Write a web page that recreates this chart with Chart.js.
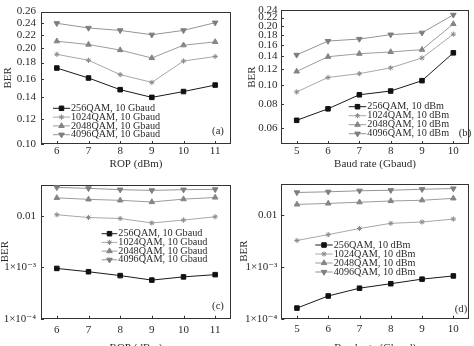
<!DOCTYPE html>
<html>
<head>
<meta charset="utf-8">
<script src="https://cdn.jsdelivr.net/npm/chart.js@4.4.1/dist/chart.umd.min.js"></script>
<style>
html,body{margin:0;padding:0;overflow:hidden;background:#fff;width:474px;height:346px;}
#wrap{position:relative;width:474px;height:346px;overflow:hidden;}
canvas{position:absolute;}
</style>
</head>
<body>
<div id="wrap">
<canvas id="ca" width="237" height="173" style="left:0;top:0"></canvas>
<canvas id="cb" width="237" height="173" style="left:237px;top:0"></canvas>
<canvas id="cc" width="237" height="182" style="left:0;top:173px"></canvas>
<canvas id="cd" width="237" height="182" style="left:237px;top:173px"></canvas>
</div>
<script>
// ---------- data ----------
const ropValues = [6, 7, 8, 9, 10, 11];
const baudValues = [5, 6, 7, 8, 9, 10];

const seriesNamesRop = ['256QAM, 10 Gbaud', '1024QAM, 10 Gbaud', '2048QAM, 10 Gbaud', '4096QAM, 10 Gbaud'];
const seriesNamesBaud = ['256QAM, 10 dBm', '1024QAM, 10 dBm', '2048QAM, 10 dBm', '4096QAM, 10 dBm'];

const a256  = [0.173, 0.161, 0.148, 0.140, 0.146, 0.153];
const a1024 = [0.191, 0.183, 0.165, 0.156, 0.182, 0.188];
const a2048 = [0.210, 0.205, 0.197, 0.186, 0.204, 0.209];
const a4096 = [0.239, 0.231, 0.227, 0.220, 0.227, 0.240];

const b256  = [0.066, 0.0755, 0.089, 0.093, 0.105, 0.1455];
const b1024 = [0.092, 0.109, 0.114, 0.122, 0.137, 0.181];
const b2048 = [0.117, 0.139, 0.144, 0.147, 0.151, 0.204];
const b4096 = [0.142, 0.167, 0.171, 0.180, 0.184, 0.227];

const c256  = [0.000945, 0.000815, 0.000686, 0.000561, 0.000648, 0.000716];
const c1024 = [0.0104, 0.0092, 0.0088, 0.0072, 0.0082, 0.0095];
const c2048 = [0.0221, 0.0207, 0.0198, 0.0184, 0.0209, 0.0225];
const c4096 = [0.0353, 0.0338, 0.0319, 0.0309, 0.0319, 0.0323];

const d256  = [0.000160, 0.000274, 0.000387, 0.000472, 0.000578, 0.000667];
const d1024 = [0.00321, 0.00416, 0.00546, 0.00687, 0.00729, 0.0083];
const d2048 = [0.0159, 0.0166, 0.0175, 0.0185, 0.0191, 0.0208];
const d4096 = [0.027, 0.0278, 0.0291, 0.0298, 0.0311, 0.0321];

const yTicksA = [0.10, 0.12, 0.14, 0.16, 0.18, 0.20, 0.22, 0.24, 0.26];
const yTicksB = [0.06, 0.08, 0.10, 0.12, 0.14, 0.16, 0.18, 0.20, 0.22, 0.24];
const yTicksLow = [0.0001, 0.001, 0.01];
const yTickLabelsLow = ['1×10⁻⁴', '1×10⁻³', '0.01'];

// ---------- styles ----------
const FONT = "'Liberation Serif', 'DejaVu Serif', 'Times New Roman', serif";
const TEXT = '#2a2a2a';
const FRAME = '#333333';
const styles = [
  {line: '#1a1a1a', point: '#111111', pointStyle: 'rect', radius: 3.2, rotation: 0},
  {line: '#a8a8a8', point: '#8a8a8a', pointStyle: 'star', radius: 2.6, rotation: 0},
  {line: '#9c9c9c', point: '#858585', pointStyle: 'triangle', radius: 3.2, rotation: 0},
  {line: '#959595', point: '#7e7e7e', pointStyle: 'triangle', radius: 3.2, rotation: 180}
];

function buildDatasets(xs, seriesList, names) {
  return seriesList.map((vals, i) => ({
    label: names[i],
    data: xs.map((x, j) => ({x: x, y: vals[j]})),
    borderColor: styles[i].line,
    backgroundColor: styles[i].point,
    pointBackgroundColor: styles[i].point,
    pointBorderColor: styles[i].point,
    pointStyle: styles[i].pointStyle,
    pointRadius: styles[i].radius,
    pointRotation: styles[i].rotation,
    pointBorderWidth: 1,
    borderWidth: 1,
    tension: 0
  }));
}

const framePlugin = {
  id: 'frame',
  beforeDatasetsDraw(chart) {
    const {ctx, chartArea: a} = chart;
    ctx.save();
    ctx.strokeStyle = FRAME;
    ctx.lineWidth = 1;
    ctx.strokeRect(Math.round(a.left) + 0.5, Math.round(a.top) + 0.5,
                   Math.round(a.right - a.left) - 1, Math.round(a.bottom - a.top) - 1);
    const ys = chart.scales.y, xs = chart.scales.x;
    ctx.beginPath();
    ys.ticks.forEach(t => {
      const p = Math.round(ys.getPixelForValue(t.value)) + 0.5;
      ctx.moveTo(a.left, p); ctx.lineTo(a.left + 3, p);
    });
    xs.ticks.forEach(t => {
      const p = Math.round(xs.getPixelForValue(t.value)) + 0.5;
      ctx.moveTo(p, a.bottom); ctx.lineTo(p, a.bottom - 3);
    });
    ctx.stroke();
    ctx.restore();
  }
};

const legendPlugin = {
  id: 'innerLegend',
  afterDatasetsDraw(chart, args, o) {
    const ctx = chart.ctx;
    ctx.save();
    ctx.font = o.size + 'px ' + FONT;
    ctx.textBaseline = 'middle';
    ctx.textAlign = 'left';
    chart.data.datasets.forEach((ds, i) => {
      const y = o.y + i * o.step;
      ctx.strokeStyle = ds.borderColor;
      ctx.lineWidth = 1;
      ctx.beginPath();
      ctx.moveTo(o.x0, y); ctx.lineTo(o.x1, y);
      ctx.stroke();
      ctx.fillStyle = ds.pointBackgroundColor;
      ctx.strokeStyle = ds.pointBorderColor;
      Chart.helpers.drawPoint(ctx, {pointStyle: ds.pointStyle, radius: ds.pointRadius,
        rotation: ds.pointRotation, borderWidth: 1}, (o.x0 + o.x1) / 2, y);
      ctx.fillStyle = TEXT;
      ctx.fillText(ds.label, o.x1 + 1, y);
    });
    ctx.textAlign = 'center';
    ctx.font = (o.size + 0.5) + 'px ' + FONT;
    ctx.fillText(o.tag, o.tagX, o.tagY);
    ctx.restore();
  }
};

function makeChart(id, p) {
  const fnt = {family: FONT, size: 11};
  return new Chart(document.getElementById(id), {
    type: 'line',
    data: {datasets: p.datasets},
    plugins: [framePlugin, legendPlugin],
    options: {
      responsive: false,
      animation: false,
      layout: {padding: {top: p.padTop, right: p.padRight, left: 0, bottom: 0}},
      plugins: {
        legend: {display: false},
        tooltip: {enabled: false},
        innerLegend: p.legend
      },
      scales: {
        x: {
          type: 'linear',
          min: p.xMin, max: p.xMax,
          afterBuildTicks: s => { s.ticks = p.xTicks.map(v => ({value: v})); },
          afterFit: s => { s.height = p.xHeight; },
          grid: {display: false, drawTicks: false},
          border: {display: false},
          ticks: {font: fnt, color: TEXT, padding: p.xPad, maxRotation: 0, autoSkip: false,
                  callback: v => String(v)},
          title: {display: true, text: p.xTitle, font: fnt, color: TEXT,
                  padding: {top: 0, bottom: p.xTitlePad}}
        },
        y: {
          type: 'logarithmic',
          min: p.yMin, max: p.yMax,
          afterBuildTicks: s => { s.ticks = p.yTicks.map(v => ({value: v})); },
          afterFit: s => { s.width = p.yWidth; },
          grid: {display: false, drawTicks: false},
          border: {display: false},
          ticks: {font: fnt, color: TEXT, padding: p.yPad, autoSkip: false,
                  callback: p.yFmt},
          title: {display: true, text: 'BER', font: fnt, color: TEXT,
                  padding: {top: p.yTitlePad, bottom: 0}}
        }
      }
    }
  });
}

const fmtTop = v => Number(v).toFixed(2);
const fmtLow = v => {
  const i = yTicksLow.findIndex(t => Math.abs(t - v) / t < 1e-6);
  return i >= 0 ? yTickLabelsLow[i] : '';
};

makeChart('ca', {
  datasets: buildDatasets(ropValues, [a256, a1024, a2048, a4096], seriesNamesRop),
  padTop: 5, padRight: 6, xHeight: 29, yWidth: 41,
  xMin: 5.5, xMax: 11.5, xTicks: ropValues, xPad: 1, xTitle: 'ROP (dBm)', xTitlePad: 2.4,
  yMin: 0.10, yMax: 0.26, yTicks: yTicksA, yPad: 5, yTitlePad: 1.4, yFmt: fmtTop,
  legend: {x0: 53, x1: 70, y: 108.3, step: 8.8, size: 10.2, tag: '(a)', tagX: 218, tagY: 131}
});

makeChart('cb', {
  datasets: buildDatasets(baudValues, [b256, b1024, b2048, b4096], seriesNamesBaud),
  padTop: 3, padRight: 1, xHeight: 29, yWidth: 44,
  xMin: 4.5, xMax: 10.5, xTicks: baudValues, xPad: 1, xTitle: 'Baud rate (Gbaud)', xTitlePad: 2.4,
  yMin: 0.05, yMax: 0.24, yTicks: yTicksB, yPad: 3.5, yTitlePad: 8.4, yFmt: fmtTop,
  legend: {x0: 111.7, x1: 129.3, y: 106.7, step: 9, size: 10.2, tag: '(b)', tagX: 228, tagY: 132.7}
});

makeChart('cc', {
  datasets: buildDatasets(ropValues, [c256, c1024, c2048, c4096], seriesNamesRop),
  padTop: 7.7, padRight: 6, xHeight: 36.3, yWidth: 41,
  xMin: 5.5, xMax: 11.5, xTicks: ropValues, xPad: 4.4, xTitle: 'ROP (dBm)', xTitlePad: 0.4,
  yMin: 0.0001, yMax: 0.04, yTicks: yTicksLow, yPad: 5, yTitlePad: -1.6, yFmt: fmtLow,
  legend: {x0: 101.7, x1: 117.3, y: 60.7, step: 8.7, size: 10.2, tag: '(c)', tagX: 218, tagY: 133}
});

makeChart('cd', {
  datasets: buildDatasets(baudValues, [d256, d1024, d2048, d4096], seriesNamesBaud),
  padTop: 8, padRight: 1, xHeight: 36.3, yWidth: 44.3,
  xMin: 4.5, xMax: 10.5, xTicks: baudValues, xPad: 3.5, xTitle: 'Baud rate (Gbaud)', xTitlePad: 0.4,
  yMin: 0.0001, yMax: 0.04, yTicks: yTicksLow, yPad: 4, yTitlePad: 0.9, yFmt: fmtLow,
  legend: {x0: 78.3, x1: 95.7, y: 72, step: 9, size: 10.2, tag: '(d)', tagX: 224, tagY: 135.7}
});
</script>
</body>
</html>
